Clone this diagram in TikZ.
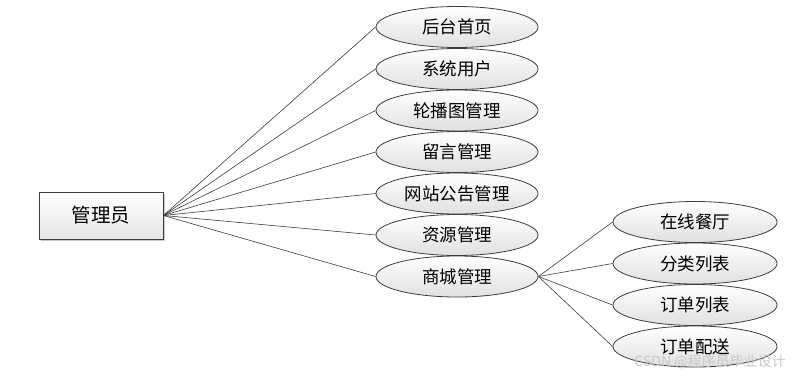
\documentclass[tikz,border=0pt]{standalone}
\usepackage{fontspec}
\newfontfamily\cjk{Noto Sans CJK SC}
\usetikzlibrary{shapes.geometric,shadows}
\definecolor{edge}{HTML}{3C3C3C}
\definecolor{wm}{HTML}{C8C8C8}
\begin{document}
\begin{tikzpicture}[x=1pt,y=-1pt,
  oval/.style={ellipse,draw=edge,line width=0.8pt,top color=white,bottom color=black!12,
    minimum width=162pt,minimum height=41pt,inner sep=0pt,font=\cjk\fontsize{17.5}{17.5}\selectfont},
  box/.style={rectangle,draw=edge,line width=0.8pt,top color=white,bottom color=black!10,
    minimum width=124pt,minimum height=47pt,inner sep=0pt,font=\cjk\fontsize{19.5}{19.5}\selectfont,
    drop shadow={shadow xshift=2pt,shadow yshift=-2pt,fill=black!35,opacity=0.6}},
  link/.style={draw=edge,line width=0.6pt}]
\useasboundingbox (0,0) rectangle (805,378);
\node[box] (admin) at (101,215.5) {管理员};
\node[oval] (a1) at (457,27) {后台首页};
\node[oval] (a2) at (457,69) {系统用户};
\node[oval] (a3) at (457,110.5) {轮播图管理};
\node[oval] (a4) at (457,152) {留言管理};
\node[oval] (a5) at (457,193.5) {网站公告管理};
\node[oval] (a6) at (457,235) {资源管理};
\node[oval] (a7) at (457,276.5) {商城管理};
\node[oval,minimum width=164pt] (b1) at (695,222) {在线餐厅};
\node[oval,minimum width=164pt] (b2) at (695,263.5) {分类列表};
\node[oval,minimum width=164pt] (b3) at (695,305) {订单列表};
\node[oval,minimum width=164pt] (b4) at (695,346.5) {订单配送};
\foreach \i in {1,...,7} \draw[link] (admin.east) -- (a\i.west);
\foreach \i in {1,...,4} \draw[link] (a7.east) -- (b\i.west);
\node[text=wm,font=\cjk\fontsize{14}{14}\selectfont,anchor=center,inner sep=0pt] (wmark) at (710,362) {CSDN @程序员毕业设计};
\end{tikzpicture}
\end{document}
